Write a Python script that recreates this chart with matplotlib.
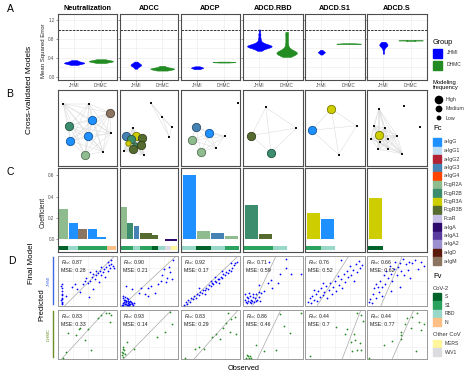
import itertools
import matplotlib.pyplot as plt
from matplotlib.patches import Rectangle, Circle
from matplotlib.colors import to_rgb
import numpy as np

plt.rcParams['font.family'] = ['Liberation Sans', 'DejaVu Sans']
plt.rcParams['mathtext.fontset'] = 'custom'
plt.rcParams['mathtext.it'] = 'Liberation Sans:italic'
plt.rcParams['mathtext.rm'] = 'Liberation Sans'

assays = ['Neutralization', 'ADCC', 'ADCP', 'ADCD.RBD', 'ADCD.S1', 'ADCD.S']
groups = ['JHMI', 'DHMC']
group_colors = ['#0000ff', '#228b22']

fc_names = ['a-IgG', 'a-IgG1', 'a-IgG2', 'a-IgG3', 'a-IgG4', 'FcgR2A', 'FcgR2B', 'FcgR3A',
            'FcgR3B', 'FcaR', 'a-IgA', 'a-IgA1', 'a-IgA2', 'a-IgD', 'a-IgM']
fc_colors = ['#1e90ff', '#bfdcf5', '#b22234', '#4682b4', '#ff4500', '#8fbc8f', '#3c8c6e', '#cdcd00',
             '#556b2f', '#c8bfe7', '#2e0a6e', '#5a3ca0', '#9b8fcf', '#5c1a0a', '#8b7560']
fv_names = ['S', 'S1', 'RBD', 'N', 'MERS', 'WIV1']
fv_colors = ['#00642a', '#2ca25f', '#99d8c9', '#fdbf86', '#fff59a', '#dcdce0']
fc_col = dict(zip(fc_names, fc_colors))
fv_col = dict(zip(fv_names, fv_colors))

# --- A: cross-validated MSE per model run
mse_jhmi = [
    [0.25, 0.27, 0.28, 0.29, 0.29, 0.30, 0.30, 0.31, 0.33, 0.35],
    [0.17, 0.21, 0.23, 0.24, 0.25, 0.25, 0.26, 0.27, 0.29, 0.32],
    [0.16, 0.18, 0.19, 0.19, 0.20, 0.22],
    [0.55, 0.58, 0.60, 0.61, 0.62, 0.63, 0.63, 0.64, 0.64, 0.65, 0.65, 0.65, 0.66, 0.66, 0.67,
     0.68, 0.69, 0.70, 0.72, 0.76, 0.82, 0.90, 1.00],
    [0.47, 0.50, 0.51, 0.52, 0.52, 0.53, 0.54, 0.57],
    [0.49, 0.58, 0.63, 0.65, 0.66, 0.67, 0.68, 0.69, 0.70, 0.72, 0.74],
]
mse_dhmc = [
    [0.29, 0.31, 0.32, 0.33, 0.33, 0.34, 0.35, 0.37],
    [0.13, 0.15, 0.16, 0.17, 0.17, 0.18, 0.19, 0.23],
    [0.30, 0.31, 0.31, 0.31, 0.32],
    [0.42, 0.44, 0.46, 0.47, 0.48, 0.49, 0.50, 0.50, 0.51, 0.51, 0.52, 0.53, 0.54, 0.55, 0.57,
     0.60, 0.65, 0.72, 0.80, 0.88, 0.95],
    [0.69, 0.70, 0.70, 0.70, 0.71],
    [0.76, 0.77, 0.77, 0.77, 0.78],
]
violin_w_jhmi = [0.75, 0.4, 0.45, 0.9, 0.25, 0.3]
violin_w_dhmc = [0.9, 0.9, 0.85, 0.75, 0.9, 0.9]
violin_bw = [None, None, None, 0.3, None, 0.45]

# --- B: feature networks (layout x, y, modeling frequency, Fc feature)
net_nodes = [
    [(0.09, 0.82, 'Low', None), (0.52, 0.82, 'Low', None), (0.88, 0.70, 'High', 'a-IgM'),
     (0.58, 0.60, 'High', 'a-IgG'), (0.19, 0.53, 'High', 'FcgR2B'), (0.51, 0.40, 'High', 'a-IgG'),
     (0.89, 0.43, 'Low', None), (0.21, 0.33, 'High', 'a-IgG'), (0.76, 0.19, 'Low', None),
     (0.46, 0.14, 'High', 'FcgR2A')],
    [(0.53, 0.83, 'Low', None), (0.73, 0.64, 'Low', None), (0.89, 0.51, 'Low', None),
     (0.85, 0.38, 'Low', None), (0.22, 0.50, 'Low', None), (0.10, 0.39, 'High', 'a-IgG3'),
     (0.28, 0.40, 'High', 'FcgR3A'), (0.38, 0.37, 'High', 'FcgR3B'), (0.19, 0.35, 'High', 'FcgR2B'),
     (0.14, 0.30, 'Medium', 'FcgR3A'), (0.26, 0.28, 'Medium', 'FcgR2B'), (0.36, 0.27, 'High', 'FcgR3B'),
     (0.23, 0.22, 'High', 'FcgR3B'), (0.07, 0.20, 'Low', None), (0.42, 0.14, 'Low', None)],
    [(0.97, 0.83, 'Low', None), (0.25, 0.51, 'High', 'a-IgG3'), (0.48, 0.43, 'High', 'a-IgG'),
     (0.74, 0.39, 'Low', None), (0.18, 0.34, 'High', 'FcgR2A'), (0.59, 0.24, 'Low', None),
     (0.34, 0.19, 'High', 'FcgR2A')],
    [(0.38, 0.77, 'Low', None), (0.89, 0.50, 'Low', None), (0.14, 0.40, 'High', 'FcgR3B'),
     (0.47, 0.17, 'High', 'FcgR2B')],
    [(0.44, 0.75, 'High', 'FcgR3A'), (0.86, 0.53, 'Low', None), (0.11, 0.47, 'High', 'a-IgG'),
     (0.56, 0.15, 'Low', None)],
    [(0.61, 0.79, 'Low', None), (0.20, 0.75, 'Low', None), (0.11, 0.53, 'Low', None),
     (0.30, 0.50, 'Low', None), (0.89, 0.51, 'Low', None), (0.20, 0.41, 'High', 'FcgR3A'),
     (0.50, 0.40, 'Low', None), (0.07, 0.36, 'Low', None), (0.22, 0.31, 'Low', None),
     (0.35, 0.36, 'Low', None), (0.19, 0.22, 'Low', None), (0.35, 0.23, 'Low', None),
     (0.59, 0.16, 'Low', None)],
]
net_clusters = [
    [list(range(10))],
    [[0, 1, 2, 3], list(range(4, 15))],
    [[1, 2, 3, 4, 5, 6]],
    [[0, 1, 2, 3]],
    [[0, 1, 2, 3]],
    [[1, 2, 3, 5, 6, 7, 8, 9, 10, 11, 12]],
]

# --- C: final model coefficients
coef = [
    [0.28, 0.15, 0.097, 0.097, 0.02, 0.006],
    [0.30, 0.153, 0.128, 0.063, 0.063, 0.038, 0.005, -0.02, -0.02],
    [0.60, 0.078, 0.06, 0.032],
    [0.32, 0.047, 0.004],
    [0.247, 0.188],
    [0.39],
]
coef_fc = [
    ['FcgR2A', 'a-IgG', 'a-IgM', 'a-IgG', 'a-IgG', 'a-IgA'],
    ['FcgR2A', 'FcgR2B', 'a-IgG3', 'FcgR3B', 'FcgR3B', 'FcgR3B', 'FcgR3A', 'a-IgA', 'a-IgA'],
    ['a-IgG', 'FcgR2A', 'a-IgG3', 'FcgR2A'],
    ['FcgR2B', 'FcgR3B', 'a-IgG2'],
    ['FcgR3A', 'a-IgG'],
    ['FcgR3A'],
]
coef_fv = [
    ['S', 'RBD', 'S1', 'S1', 'S1', 'N'],
    ['S1', 'S1', 'RBD', 'S1', 'S1', 'S', 'RBD', 'WIV1', 'MERS'],
    ['RBD', 'S', 'RBD', 'S1'],
    ['S1', 'S1', 'RBD'],
    ['S1', 'RBD'],
    ['S'],
]

# --- D: observed vs predicted, final models
obs_jhmi = [
    [0.06, 0.06, 0.05, 0.06, 0.06, 0.07, 0.06, 0.06, 0.05, 0.06, 0.06, 0.06,
     0.14, 0.23, 0.28, 0.33, 0.37, 0.42, 0.45, 0.48, 0.51, 0.55, 0.58, 0.59, 0.62, 0.65, 0.68, 0.69,
     0.72, 0.73, 0.76, 0.78, 0.79, 0.82, 0.84, 0.86, 0.88, 0.90, 0.93, 0.73, 0.65, 0.54, 0.52, 0.59,
     0.85, 0.95, 0.90],
    [0.04, 0.05, 0.06, 0.07, 0.08, 0.09, 0.10, 0.11, 0.12, 0.13, 0.14, 0.15, 0.16, 0.18, 0.20, 0.22,
     0.24, 0.05, 0.07, 0.09, 0.11, 0.13, 0.15, 0.17, 0.19, 0.21, 0.06, 0.08, 0.10, 0.12, 0.14,
     0.10, 0.20, 0.32, 0.37, 0.49, 0.54, 0.60, 0.65, 0.71, 0.73, 0.79, 0.81, 0.86, 0.89, 0.76, 0.92,
     0.49, 0.43, 0.84],
    [0.05, 0.08, 0.10, 0.12, 0.15, 0.17, 0.20, 0.22, 0.25, 0.27, 0.30, 0.32, 0.35, 0.37, 0.40, 0.42,
     0.45, 0.47, 0.50, 0.52, 0.55, 0.57, 0.60, 0.62, 0.65, 0.67, 0.70, 0.72, 0.75, 0.77, 0.80, 0.82,
     0.85, 0.87, 0.90, 0.92, 0.95, 0.58, 0.64, 0.40, 0.30, 0.70, 0.50, 0.85],
    [0.03, 0.05, 0.06, 0.08, 0.09, 0.11, 0.12, 0.14, 0.15, 0.17, 0.18, 0.20, 0.22, 0.24, 0.26, 0.04,
     0.10, 0.16, 0.07, 0.13, 0.21, 0.30, 0.28,
     0.27, 0.41, 0.46, 0.49, 0.61, 0.72, 0.72, 0.80, 0.96, 0.44, 0.27, 0.58, 0.35],
    [0.05, 0.08, 0.10, 0.12, 0.15, 0.18, 0.20, 0.22, 0.25, 0.27, 0.30, 0.32, 0.35, 0.37, 0.40, 0.42,
     0.45, 0.47, 0.50, 0.52, 0.55, 0.57, 0.60, 0.62, 0.65, 0.67, 0.70, 0.72, 0.75, 0.77, 0.80, 0.82,
     0.85, 0.87, 0.90, 0.92, 0.95, 0.60, 0.15, 0.30],
    [0.03, 0.05, 0.08, 0.10, 0.12, 0.15, 0.18, 0.20, 0.22, 0.25, 0.28, 0.30, 0.32, 0.35, 0.38, 0.40,
     0.42, 0.45, 0.47, 0.50, 0.52, 0.55, 0.57, 0.60, 0.62, 0.65, 0.68, 0.70, 0.72, 0.75, 0.80, 0.85,
     0.90, 0.95, 0.40, 0.25, 0.15, 0.55],
]
pred_jhmi = [
    [0.14, 0.18, 0.21, 0.25, 0.29, 0.32, 0.37, 0.41, 0.45, 0.49, 0.16, 0.23,
     0.28, 0.44, 0.48, 0.40, 0.34, 0.48, 0.53, 0.58, 0.50, 0.54, 0.61, 0.65, 0.57, 0.63, 0.67, 0.51,
     0.71, 0.64, 0.69, 0.74, 0.60, 0.77, 0.70, 0.80, 0.76, 0.83, 0.79, 0.77, 0.71, 0.69, 0.27, 0.40,
     0.86, 0.76, 0.90],
    [0.06, 0.10, 0.05, 0.12, 0.08, 0.15, 0.07, 0.11, 0.06, 0.14, 0.09, 0.05, 0.12, 0.08, 0.10, 0.06,
     0.09, 0.18, 0.16, 0.20, 0.13, 0.17, 0.07, 0.14, 0.11, 0.08, 0.22, 0.07, 0.13, 0.19, 0.05,
     0.42, 0.36, 0.29, 0.37, 0.23, 0.42, 0.29, 0.45, 0.51, 0.61, 0.48, 0.57, 0.67, 0.54, 0.73, 0.89,
     0.38, 0.26, 0.77],
    [0.09, 0.14, 0.10, 0.17, 0.15, 0.21, 0.19, 0.25, 0.22, 0.28, 0.27, 0.33, 0.30, 0.36, 0.35, 0.40,
     0.38, 0.45, 0.43, 0.48, 0.46, 0.52, 0.50, 0.56, 0.55, 0.60, 0.58, 0.64, 0.62, 0.68, 0.66, 0.72,
     0.70, 0.76, 0.80, 0.84, 0.86, 0.60, 0.48, 0.28, 0.40, 0.70, 0.52, 0.85],
    [0.21, 0.19, 0.23, 0.20, 0.22, 0.19, 0.24, 0.21, 0.20, 0.23, 0.19, 0.22, 0.20, 0.21, 0.23, 0.25,
     0.26, 0.25, 0.18, 0.18, 0.25, 0.26, 0.20,
     0.27, 0.34, 0.36, 0.30, 0.41, 0.46, 0.53, 0.41, 0.41, 0.50, 0.32, 0.34, 0.28],
    [0.24, 0.28, 0.23, 0.31, 0.26, 0.33, 0.25, 0.36, 0.30, 0.39, 0.32, 0.35, 0.41, 0.28, 0.37, 0.44,
     0.33, 0.40, 0.47, 0.36, 0.52, 0.42, 0.49, 0.39, 0.54, 0.45, 0.57, 0.51, 0.62, 0.53, 0.58, 0.47,
     0.65, 0.56, 0.68, 0.60, 0.63, 0.69, 0.37, 0.44],
    [0.26, 0.28, 0.25, 0.32, 0.36, 0.29, 0.37, 0.33, 0.41, 0.37, 0.45, 0.39, 0.48, 0.43, 0.52, 0.46,
     0.41, 0.50, 0.55, 0.45, 0.51, 0.54, 0.48, 0.57, 0.45, 0.53, 0.49, 0.55, 0.43, 0.54, 0.56, 0.50,
     0.55, 0.52, 0.34, 0.30, 0.39, 0.37],
]
obs_dhmc = [
    [0.08, 0.17, 0.31, 0.35, 0.38, 0.45, 0.50, 0.68, 0.73, 0.82, 0.86, 0.89, 0.88, 0.56, 0.14],
    [0.04, 0.05, 0.04, 0.06, 0.07, 0.05, 0.08, 0.06, 0.12, 0.24, 0.63, 0.77, 0.90, 0.87],
    [0.07, 0.24, 0.31, 0.39, 0.53, 0.59, 0.66, 0.72, 0.77, 0.83, 0.85, 0.91, 0.93, 0.80],
    [0.05, 0.08, 0.10, 0.12, 0.14, 0.07, 0.21, 0.35, 0.55, 0.78, 0.69, 0.96, 0.61],
    [0.08, 0.51, 0.67, 0.76, 0.81, 0.84, 0.87, 0.91, 0.94, 0.86, 0.93, 0.97, 0.79, 0.70],
    [0.04, 0.29, 0.42, 0.56, 0.56, 0.57, 0.64, 0.67, 0.75, 0.84, 0.86, 0.90, 0.95, 0.81, 0.73],
]
pred_dhmc = [
    [0.08, 0.46, 0.44, 0.52, 0.54, 0.36, 0.52, 0.69, 0.74, 0.77, 0.77, 0.75, 0.63, 0.20, 0.17],
    [0.13, 0.16, 0.18, 0.10, 0.21, 0.23, 0.14, 0.27, 0.35, 0.23, 0.44, 0.52, 0.65, 0.86],
    [0.24, 0.38, 0.40, 0.38, 0.56, 0.60, 0.53, 0.70, 0.77, 0.64, 0.83, 0.87, 0.61, 0.93],
    [0.25, 0.26, 0.25, 0.26, 0.25, 0.27, 0.35, 0.30, 0.31, 0.45, 0.50, 0.61, 0.60],
    [0.64, 0.82, 0.78, 0.73, 0.78, 0.74, 0.68, 0.72, 0.68, 0.91, 0.90, 0.86, 0.67, 0.81],
    [0.43, 0.52, 0.55, 0.57, 0.60, 0.62, 0.68, 0.72, 0.73, 0.76, 0.69, 0.63, 0.68, 0.48, 0.65],
]
r_jhmi = [0.87, 0.90, 0.92, 0.71, 0.76, 0.66]
msef_jhmi = [0.28, 0.21, 0.17, 0.59, 0.52, 0.62]
r_dhmc = [0.83, 0.93, 0.83, 0.86, 0.44, 0.44]
msef_dhmc = [0.33, 0.14, 0.29, 0.46, 0.7, 0.77]
pred_lim_jhmi = [(0.11, 0.96), (0.04, 0.97), (0.07, 0.97), (0.16, 0.55), (0.20, 0.73), (0.23, 0.59)]
pred_lim_dhmc = [(0.06, 0.82), (0.06, 0.89), (0.22, 0.97), (0.24, 0.63), (0.62, 0.93), (0.42, 0.78)]

# ---------------------------------------------------------------- layout
W, H = 474, 384
fig = plt.figure(figsize=(W / 100, H / 100), dpi=100)


def box(x0, y0, x1, y1):
    return [x0 / W, 1 - y1 / H, (x1 - x0) / W, (y1 - y0) / H]


def frame(ax, color='#4d4d4d', lw=0.8):
    for s in ax.spines.values():
        s.set_color(color)
        s.set_linewidth(lw)


cols = [(58, 117), (120, 178), (181, 240), (243, 303), (305, 365), (367, 427)]
grey_txt = '#4d4d4d'

# A
for i, name in enumerate(assays):
    ax = fig.add_axes(box(cols[i][0], 14, cols[i][1], 80))
    for j, (vals, w) in enumerate([(mse_jhmi[i], violin_w_jhmi[i]), (mse_dhmc[i], violin_w_dhmc[i])]):
        parts = ax.violinplot([vals], positions=[j + 1], widths=[w], showextrema=False,
                              bw_method=violin_bw[i])
        for b in parts['bodies']:
            b.set_facecolor(group_colors[j])
            b.set_edgecolor(group_colors[j])
            b.set_alpha(1)
            b.set_linewidth(0.4)
    ax.axhline(1.0, ls=(0, (2.5, 1.2)), color='#333333', lw=0.7)
    ax.set_xlim(0.4, 2.6)
    ax.set_ylim(-0.07, 1.33)
    ax.set_xticks([1, 2], groups)
    ax.set_yticks([0, 0.4, 0.8, 1.2])
    ax.set_yticks([0.2, 0.6, 1.0], minor=True)
    ax.grid(True, which='both', color='#ebebeb', lw=0.4)
    ax.set_axisbelow(True)
    ax.tick_params(labelsize=3.3, length=1.2, width=0.4, colors=grey_txt, pad=1.2)
    ax.tick_params(which='minor', length=0)
    if i > 0:
        ax.tick_params(labelleft=False)
    ax.set_title(name, fontsize=5.2, fontweight='bold', pad=3)
    frame(ax)

# B
node_size = {'High': 36, 'Medium': 15, 'Low': 4}
for i in range(6):
    ax = fig.add_axes(box(cols[i][0], 90, cols[i][1], 166))
    nodes = net_nodes[i]
    for cl in net_clusters[i]:
        for a, b in itertools.combinations(cl, 2):
            ax.plot([nodes[a][0], nodes[b][0]], [nodes[a][1], nodes[b][1]],
                    color='#d9d9d9', lw=0.35, zorder=1)
    for x, y, freq, feat in nodes:
        if freq == 'Low':
            ax.scatter(x, y, s=node_size[freq], marker='s', color='#111111', lw=0, zorder=3)
        else:
            c = to_rgb(fc_col[feat])
            ax.scatter(x, y, s=node_size[freq], color=c, edgecolor=tuple(v * 0.6 for v in c),
                       lw=0.6, zorder=2)
    ax.set_xlim(0, 1)
    ax.set_ylim(0, 1)
    ax.set_xticks([])
    ax.set_yticks([])
    frame(ax)

# C
for i in range(6):
    ax = fig.add_axes(box(cols[i][0], 168, cols[i][1], 252))
    n = len(coef[i])
    xs = np.arange(1, n + 1)
    ax.bar(xs, coef[i], width=0.9, color=[fc_col[f] for f in coef_fc[i]], zorder=2)
    ax.bar(xs, 0.035, bottom=-0.103, width=1.0, color=[fv_col[v] for v in coef_fv[i]], zorder=2)
    ax.set_xlim(0.4, max(n, 4) + 0.6)
    ax.set_ylim(-0.12, 0.67)
    ax.set_xticks([])
    ax.set_yticks([0, 0.2, 0.4, 0.6])
    ax.tick_params(labelsize=3.3, length=1.2, width=0.4, colors=grey_txt, pad=1.2)
    if i > 0:
        ax.tick_params(labelleft=False, left=False)
    frame(ax)

# D
drows = [(256, 306), (310, 359)]
for r in range(2):
    obs = [obs_jhmi, obs_dhmc][r]
    pred = [pred_jhmi, pred_dhmc][r]
    rv = [r_jhmi, r_dhmc][r]
    mv = [msef_jhmi, msef_dhmc][r]
    lims = [pred_lim_jhmi, pred_lim_dhmc][r]
    for i in range(6):
        ax = fig.add_axes(box(cols[i][0], drows[r][0], cols[i][1], drows[r][1]))
        ax.scatter(obs[i], pred[i], s=1.6, color=group_colors[r], lw=0, zorder=3)
        ax.axline((0, 0), slope=1, color='#a8a8a8', lw=0.5, zorder=2)
        ax.set_xlim(0, 1)
        ax.set_ylim(*lims[i])
        ax.set_xticks([0.25, 0.5, 0.75])
        ax.set_yticks(np.linspace(lims[i][0], lims[i][1], 5)[1:-1])
        ax.grid(True, color='#ececec', lw=0.4)
        ax.set_axisbelow(True)
        ax.tick_params(length=0, labelbottom=False, labelleft=False)
        ax.text(0.05, 0.95, r'$R_{cv}$' + f': {rv[i]:.2f}\nMSE: {mv[i]:g}', transform=ax.transAxes,
                fontsize=3.8, va='top', ha='left', color='#222222', linespacing=1.1, zorder=4)
        frame(ax, '#9a9a9a', 0.7)

# labels and legends
ov = fig.add_axes([0, 0, 1, 1])
ov.set_xlim(0, W)
ov.set_ylim(H, 0)
ov.axis('off')

for letter, (x, y) in zip('ABCD', [(10, 9), (10, 94), (10, 172), (12, 261)]):
    ov.text(x, y, letter, fontsize=7.5, ha='center', va='center')
ov.text(30, 90, 'Cross-validated Models', rotation=90, fontsize=6, ha='center', va='center')
ov.text(43.5, 51, 'Mean Squared Error', rotation=90, fontsize=4.3, ha='center', va='center', color='#222222')
ov.text(43.5, 212, 'Coefficient', rotation=90, fontsize=4.8, ha='center', va='center', color='#222222')
ov.text(32, 263, 'Final Model', rotation=90, fontsize=5.8, ha='center', va='center')
ov.text(41.5, 305, 'Predicted', rotation=90, fontsize=5.5, ha='center', va='center')
ov.text(244, 368, 'Observed', fontsize=5.3, ha='center', va='center')

for r, (y0, y1) in enumerate(drows):
    ov.plot([53.5, 53.5], [y0 + 1, y1 - 2], color=['#4169e1', '#6b8e23'][r], lw=1.0)
    ov.text(49, (y0 + y1) / 2, groups[r], rotation=90, fontsize=3.2, ha='center', va='center',
            color=['#4169e1', '#6b8e23'][r])

lx = 433
ov.text(lx, 43, 'Group', fontsize=5.2, va='center')
for j, (yc) in enumerate([53, 65]):
    ov.add_patch(Rectangle((lx, yc - 4.5), 9, 9, color=group_colors[j]))
    ov.text(lx + 14, yc, groups[j], fontsize=3.6, va='center', color='#333333')

ov.text(lx, 85, 'Modeling\nfrequency', fontsize=4.2, va='center', linespacing=1.0)
for k, (lab, rad) in enumerate([('High', 3.6), ('Medium', 2.7), ('Low', 1.7)]):
    yc = 100 + k * 9
    ov.add_patch(Circle((lx + 6, yc), rad, color='black'))
    ov.text(lx + 13, yc, lab, fontsize=3.8, va='center', color='#333333')

ov.text(lx, 128, 'Fc', fontsize=5.5, va='center')
for k, (name, c) in enumerate(zip(fc_names, fc_colors)):
    yc = 142 + k * 8.5
    ov.add_patch(Rectangle((lx, yc - 4), 8, 8, color=c))
    ov.text(lx + 10.5, yc, name, fontsize=3.8, va='center', color='#333333')

ov.text(lx, 277, 'Fv', fontsize=5.5, va='center')
ov.text(lx, 288, 'CoV-2', fontsize=4.2, va='center', color='#333333')
ov.text(lx, 335, 'Other CoV', fontsize=4.2, va='center', color='#333333')
fv_y = [297, 305.3, 313.6, 322, 343.5, 352]
for name, c, yc in zip(fv_names, fv_colors, fv_y):
    ov.add_patch(Rectangle((lx, yc - 4), 8, 8, color=c))
    ov.text(lx + 12, yc, name, fontsize=3.6, va='center', color='#333333')

fig.savefig('out.png', dpi=100)
